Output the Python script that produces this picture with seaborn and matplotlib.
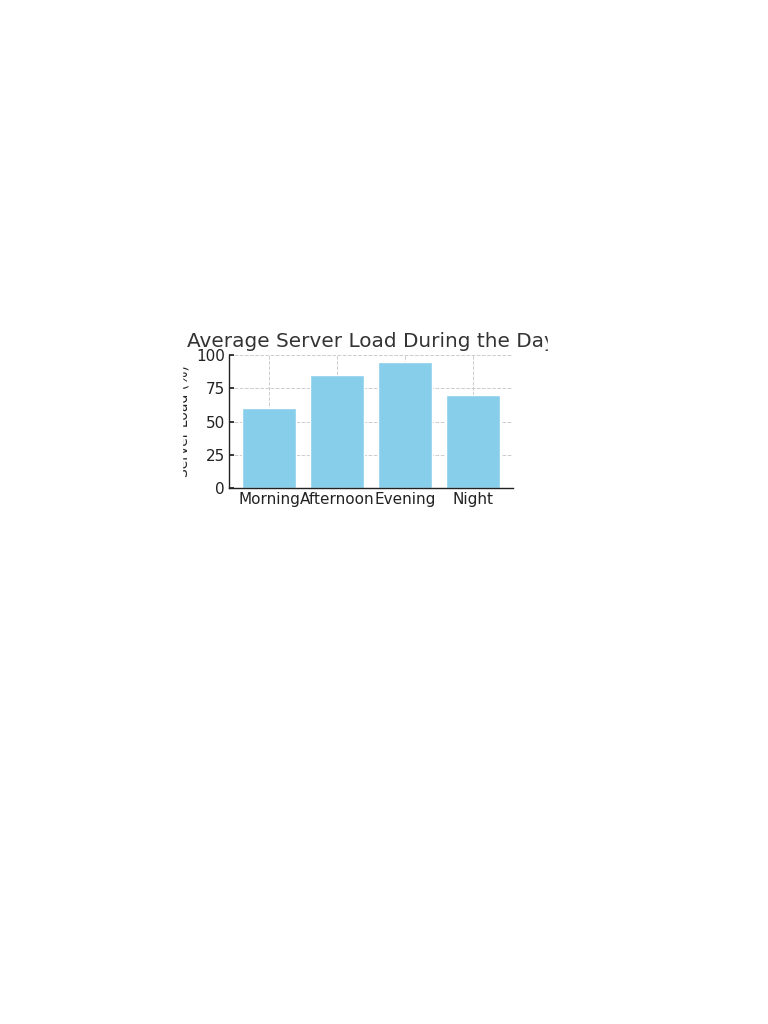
"""Barras de carga media del servidor por franja del día."""
import matplotlib
matplotlib.use("Agg")
import matplotlib.pyplot as plt
from matplotlib.patches import Rectangle
import pandas as pd
import seaborn as sns

periodos = ["Morning", "Afternoon", "Evening", "Night"]
carga = [60, 85, 95, 70]
yticks = [0, 25, 50, 75, 100]

sns.set_theme(
    style="ticks",
    rc={
        "axes.grid": True,
        "grid.linestyle": "--",
        "grid.color": "#cccccc",
        "grid.linewidth": 0.7,
        "axes.edgecolor": "#222222",
        "axes.linewidth": 1.0,
        "xtick.direction": "in",
        "ytick.direction": "in",
        "xtick.major.size": 3.5,
        "ytick.major.size": 3.5,
        "xtick.major.pad": 3,
        "ytick.major.pad": 3,
    },
)
plt.rcParams["font.family"] = ["DejaVu Sans"]

df = pd.DataFrame({"periodo": periodos, "carga": carga})

W, H = 768, 1024
fig = plt.figure(figsize=(7.68, 10.24), dpi=100)
ax = fig.add_axes([229 / W, 1 - 488 / H, (513 - 229) / W, (488 - 355) / H])

sns.barplot(data=df, x="periodo", y="carga", color="#87CEEB", saturation=1, width=0.8, ax=ax)
ax.set_ylim(0, 100)
ax.set_yticks(yticks)
ax.set_xlim(-0.59, 3.59)
ax.xaxis.grid(True)
ax.yaxis.grid(True)
ax.set_axisbelow(True)
ax.set_title("Average Server Load During the Day", fontsize=14.4, color="#333333", pad=6)
ax.set_xlabel("")
ax.set_ylabel("Server Load (%)", fontsize=10, color="#222222")
ax.tick_params(labelsize=11, colors="#222222")
sns.despine(ax=ax)

# el recorte de la imagen original corta el título y la etiqueta del eje Y
fig.add_artist(Rectangle((0, 0), 182 / W, 1, transform=fig.transFigure, color="white", zorder=10))
fig.add_artist(Rectangle((548 / W, 0), 1, 1, transform=fig.transFigure, color="white", zorder=10))

fig.savefig("out.png", dpi=100)
